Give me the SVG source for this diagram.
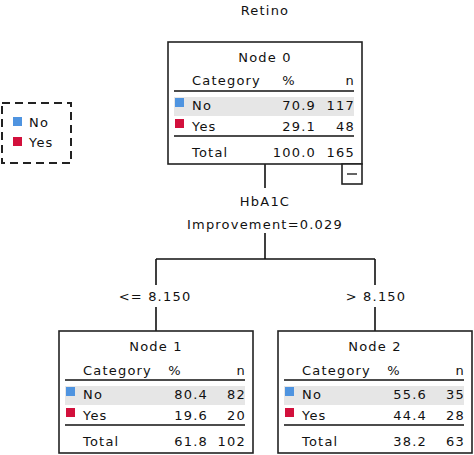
<svg xmlns="http://www.w3.org/2000/svg" width="474" height="455" viewBox="0 0 474 455">
<style>
text{font-family:"DejaVu Sans","Liberation Sans",sans-serif;font-size:13px;fill:#111;letter-spacing:1.2px}
.m{text-anchor:middle}
.e{text-anchor:end}
.box{fill:#fff;stroke:#222;stroke-width:1.6}
.ln{stroke:#111;stroke-width:1.3;fill:none}
.row{fill:#e6e6e6}
.no{fill:#4f94e0}
.yes{fill:#d2103c}
.con{stroke:#111;stroke-width:1.6;fill:none}
</style>
<rect width="474" height="455" fill="#fff"/>
<text class="m" x="265" y="15">Retino</text>
<g id="legend">
<rect x="2" y="103" width="69" height="60" fill="#fff" stroke="#222" stroke-width="2" stroke-dasharray="8 5"/>
<rect class="no" x="13" y="117" width="9" height="9"/>
<text x="29" y="127">No</text>
<rect class="yes" x="13" y="137" width="9" height="9"/>
<text x="29" y="147">Yes</text>
</g>
<g id="connectors">
<path class="con" d="M265 164V188M265 233V259M156 259H375M156 259V285M156 307V331M375 259V285M375 307V331"/>
<text class="m" x="265" y="206">HbA1C</text>
<text class="m" x="265" y="229">Improvement=0.029</text>
<text class="m" x="155" y="301">&lt;= 8.150</text>
<text class="m" x="376" y="301">&gt; 8.150</text>
</g>
<g id="node0" transform="translate(168,42)">
<rect class="box" x="0" y="0" width="194" height="122"/>
<text class="m" x="97" y="20">Node 0</text>
<text x="24" y="43">Category</text><text class="m" x="121" y="43">%</text><text class="e" x="187" y="43">n</text>
<line class="ln" x1="6" y1="49" x2="186" y2="49"/>
<rect class="row" x="6" y="55" width="180" height="19"/>
<rect class="no" x="7" y="56" width="9" height="9"/>
<text x="24" y="68">No</text><text class="e" x="148" y="68">70.9</text><text class="e" x="187" y="68">117</text>
<rect class="yes" x="7" y="77" width="9" height="9"/>
<text x="24" y="89">Yes</text><text class="e" x="148" y="89">29.1</text><text class="e" x="187" y="89">48</text>
<line class="ln" x1="6" y1="94" x2="186" y2="94"/>
<text x="24" y="115">Total</text><text class="e" x="148" y="115">100.0</text><text class="e" x="187" y="115">165</text>
<rect class="box" x="174" y="122" width="20" height="20"/>
<line class="ln" x1="179" y1="132" x2="189" y2="132"/>
</g>
<g id="node1" transform="translate(59,331)">
<rect class="box" x="0" y="0" width="194" height="122"/>
<text class="m" x="97" y="20">Node 1</text>
<text x="24" y="44">Category</text><text class="m" x="116" y="44">%</text><text class="e" x="187" y="44">n</text>
<line class="ln" x1="6" y1="49" x2="186" y2="49"/>
<rect class="row" x="6" y="55" width="180" height="19"/>
<rect class="no" x="7" y="56" width="9" height="9"/>
<text x="24" y="68">No</text><text class="e" x="149" y="68">80.4</text><text class="e" x="187" y="68">82</text>
<rect class="yes" x="7" y="77" width="9" height="9"/>
<text x="24" y="89">Yes</text><text class="e" x="149" y="89">19.6</text><text class="e" x="187" y="89">20</text>
<line class="ln" x1="6" y1="94" x2="186" y2="94"/>
<text x="24" y="115">Total</text><text class="e" x="149" y="115">61.8</text><text class="e" x="187" y="115">102</text>
</g>
<g id="node2" transform="translate(278,331)">
<rect class="box" x="0" y="0" width="194" height="122"/>
<text class="m" x="97" y="20">Node 2</text>
<text x="24" y="44">Category</text><text class="m" x="116" y="44">%</text><text class="e" x="187" y="44">n</text>
<line class="ln" x1="6" y1="49" x2="186" y2="49"/>
<rect class="row" x="6" y="55" width="180" height="19"/>
<rect class="no" x="7" y="56" width="9" height="9"/>
<text x="24" y="68">No</text><text class="e" x="149" y="68">55.6</text><text class="e" x="187" y="68">35</text>
<rect class="yes" x="7" y="77" width="9" height="9"/>
<text x="24" y="89">Yes</text><text class="e" x="149" y="89">44.4</text><text class="e" x="187" y="89">28</text>
<line class="ln" x1="6" y1="94" x2="186" y2="94"/>
<text x="24" y="115">Total</text><text class="e" x="149" y="115">38.2</text><text class="e" x="187" y="115">63</text>
</g>
</svg>
